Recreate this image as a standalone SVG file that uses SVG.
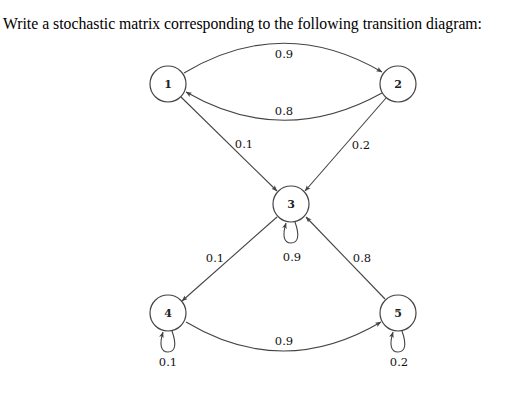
<svg xmlns="http://www.w3.org/2000/svg" width="528" height="410" viewBox="0 0 528 410">
<style>
.node circle{fill:#fff;stroke:#444;stroke-width:1.2}
.node text{font-family:"DejaVu Serif",serif;font-size:11px;font-weight:bold;fill:#222;text-anchor:middle;dominant-baseline:central}
.edge{fill:none;stroke:#444;stroke-width:1.1;marker-end:url(#ah)}
.lbl{font-family:"DejaVu Serif",serif;font-size:11.5px;fill:#111;text-anchor:middle;dominant-baseline:central}
.title{font-family:"Liberation Serif","Times New Roman",serif;font-size:16px;fill:#000}
</style>
<defs>
<marker id="ah" viewBox="0 0 8 8" refX="7.5" refY="4" markerWidth="6" markerHeight="6" markerUnits="userSpaceOnUse" orient="auto">
<path d="M0,0.8 L8,4 L0,7.2 L1.8,4 z" fill="#444"/>
</marker>
</defs>
<rect width="528" height="410" fill="#fff"/>
<text class="title" x="3" y="29" textLength="479" lengthAdjust="spacingAndGlyphs">Write a stochastic matrix corresponding to the following transition diagram:</text>
<g id="connectors">
<path class="edge" d="M184,73 Q283,14 382,72"/>
<path class="edge" d="M382,93 Q283,148 186,92"/>
<path class="edge" d="M181,97 L277,191"/>
<path class="edge" d="M386,98 L305,191"/>
<path class="edge" d="M277,217 L182,301"/>
<path class="edge" d="M385,299 L306,217"/>
<path class="edge" d="M186,322 Q283,380 381,322"/>
<path class="edge" d="M295,222 C300,236 298,243 291,243 C284,243 282,236 286,223"/>
<path class="edge" d="M172,331 C177,345 175,352 168,352 C161,352 159,345 163,332"/>
<path class="edge" d="M402,331 C407,345 405,352 398,352 C391,352 389,345 393,332"/>
<text class="lbl" x="284" y="54">0.9</text>
<text class="lbl" x="284" y="111">0.8</text>
<text class="lbl" x="244" y="144">0.1</text>
<text class="lbl" x="361" y="145">0.2</text>
<text class="lbl" x="292" y="257">0.9</text>
<text class="lbl" x="215" y="258">0.1</text>
<text class="lbl" x="362" y="258">0.8</text>
<text class="lbl" x="284" y="341">0.9</text>
<text class="lbl" x="168" y="362">0.1</text>
<text class="lbl" x="399" y="362">0.2</text>
</g>
<g id="node1" class="node"><circle cx="168" cy="84" r="18"/><text x="168" y="84">1</text></g>
<g id="node2" class="node"><circle cx="398" cy="84" r="18"/><text x="398" y="84">2</text></g>
<g id="node3" class="node"><circle cx="291" cy="204" r="18"/><text x="291" y="204">3</text></g>
<g id="node4" class="node"><circle cx="168" cy="313" r="18"/><text x="168" y="313">4</text></g>
<g id="node5" class="node"><circle cx="398" cy="313" r="18"/><text x="398" y="313">5</text></g>
</svg>
